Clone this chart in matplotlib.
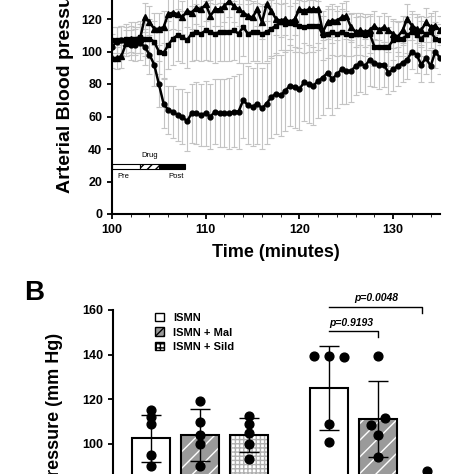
import matplotlib
matplotlib.use("Agg")
import matplotlib.pyplot as plt
from matplotlib.patches import Rectangle, Patch
import numpy as np

plt.rcParams['font.family'] = 'Liberation Sans'
plt.rcParams['font.weight'] = 'bold'

# ---- panel A data (time course, 0.5 min steps from 100 to 135) ----
tiempo = np.arange(100, 135.01, 0.5)
circ = [103, 106, 107, 106, 104, 104, 105, 103, 98, 92, 80, 68, 64, 63, 61, 60, 57, 62, 62, 61,
        62, 60, 63, 62, 62, 62, 63, 63, 70, 67, 66, 68, 65, 68, 72, 74, 73, 76, 79, 78,
        77, 81, 80, 79, 82, 84, 87, 83, 86, 89, 88, 88, 91, 93, 91, 95, 93, 92, 92, 87,
        89, 91, 93, 95, 100, 98, 92, 96, 91, 100, 96]
circ_err = [8, 9, 9, 9, 9, 10, 10, 11, 12, 13, 14, 15, 15, 16, 16, 17, 18, 18, 19, 19,
            20, 20, 20, 21, 21, 22, 22, 23, 23, 24, 24, 25, 25, 25, 25, 25, 25, 25, 25, 25,
            25, 24, 24, 24, 23, 23, 22, 22, 21, 21, 20, 19, 18, 18, 17, 16, 15, 15, 14, 13,
            13, 12, 12, 12, 11, 11, 11, 10, 10, 10, 10]
cuad = [107, 107, 107, 108, 108, 108, 109, 108, 108, 106, 100, 99, 104, 108, 110, 109, 107, 111, 112, 111,
        113, 112, 111, 112, 112, 112, 113, 111, 115, 111, 112, 112, 111, 112, 114, 116, 118, 117, 118, 117,
        116, 115, 116, 116, 116, 110, 111, 112, 111, 112, 111, 110, 111, 111, 110, 111, 103, 103, 103, 103,
        107, 108, 108, 110, 112, 110, 108, 111, 112, 108, 107]
cuad_err = [8, 8, 9, 9, 10, 10, 10, 11, 12, 13, 14, 15, 15, 16, 16, 16, 17, 17, 17, 17,
            18, 18, 18, 18, 18, 18, 18, 18, 18, 18, 18, 18, 18, 18, 18, 18, 17, 17, 17, 17,
            16, 16, 16, 16, 15, 15, 15, 14, 14, 14, 14, 13, 13, 13, 13, 12, 12, 12, 12, 12,
            12, 11, 11, 11, 11, 11, 11, 10, 10, 10, 10]
tri = [96, 96, 97, 105, 108, 107, 108, 121, 118, 114, 114, 115, 123, 124, 123, 121, 125, 124, 127, 126,
       129, 122, 126, 126, 128, 131, 128, 126, 124, 122, 121, 126, 118, 129, 125, 120, 119, 120, 118, 120,
       126, 125, 126, 126, 126, 112, 118, 119, 119, 121, 122, 115, 112, 113, 112, 113, 116, 113, 115, 113,
       111, 109, 113, 120, 116, 114, 113, 118, 115, 116, 113]
tri_err = [6, 7, 7, 8, 8, 8, 9, 9, 10, 10, 10, 10, 10, 10, 10, 10, 10, 10, 10, 10,
           10, 10, 10, 10, 10, 10, 10, 10, 10, 10, 10, 10, 10, 10, 10, 10, 10, 10, 10, 10,
           10, 10, 10, 10, 10, 10, 10, 10, 9, 9, 9, 9, 9, 9, 9, 9, 9, 9, 9, 9,
           9, 9, 9, 9, 9, 9, 9, 9, 9, 9, 9]

# ---- panel B data ----
grupos = ['ISMN', 'ISMN + Mal', 'ISMN + Sild']
pos_b = [1, 2, 3, 4.63, 5.63, 6.63]
medias = [102.5, 104, 104, 125, 111, 0]
sd = [10.5, 11.5, 7.5, 19, 17, 0]
puntos = [[115, 112, 109, 95, 90], [119, 110, 104, 100, 90], [112.5, 109, 105, 100, 93],
          [139.5, 139.5, 139, 109, 101], [139.5, 108.5, 111.5, 104, 94], [88]]
jitter = [[0, 0, 0, 0, 0], [0, 0, 0, 0, 0], [0, 0, 0, 0, 0],
          [-0.3, 0, 0.3, 0, 0], [0, -0.15, 0.15, 0, 0], [0]]

fig = plt.figure(figsize=(4.74, 4.74), dpi=100)
W = H = 474.0

# ---------- panel A ----------
ax1 = fig.add_axes([112 / W, (H - 214) / H, (440 - 112) / W, 227.5 / H])
gris = '#c4c4c4'
for y, e in [(circ, circ_err), (cuad, cuad_err), (tri, tri_err)]:
    ax1.errorbar(tiempo, y, yerr=e, fmt='none', ecolor=gris, elinewidth=0.8, capsize=2, capthick=0.8, zorder=1)
ax1.plot(tiempo, circ, 'k-o', ms=3.5, lw=1.8, zorder=3)
ax1.plot(tiempo, cuad, 'k-s', ms=3.5, lw=1.8, zorder=3)
ax1.plot(tiempo, tri, 'k-^', ms=4, lw=1.8, zorder=3)
ax1.set_xlim(100, 135)
ax1.set_ylim(0, 140)
ax1.set_yticks(range(0, 141, 20))
ax1.set_xticks([100, 110, 120, 130])
ax1.set_xticks(np.arange(100, 136, 2), minor=True)
ax1.spines['top'].set_visible(False)
ax1.spines['right'].set_visible(False)
for s in ['left', 'bottom']:
    ax1.spines[s].set_linewidth(1.5)
ax1.tick_params(labelsize=9, width=1.3)
ax1.set_xlabel('Time (minutes)', fontsize=13, fontweight='bold', labelpad=6)
# drug timeline inset
ax1.add_patch(Rectangle((100, 27.5), 3, 3.5, facecolor='white', edgecolor='black', lw=0.8))
ax1.add_patch(Rectangle((103, 27.5), 2, 3.5, facecolor='white', edgecolor='black', hatch='////', lw=0.8))
ax1.add_patch(Rectangle((105, 27.5), 2.8, 3.5, facecolor='black', edgecolor='black', lw=0.8))
ax1.text(104, 34, 'Drug', fontsize=5.5, ha='center', va='bottom', fontweight='normal')
ax1.text(100.6, 25, 'Pre', fontsize=5.5, ha='left', va='top', fontweight='normal')
ax1.text(106.8, 25, 'Post', fontsize=5.5, ha='center', va='top', fontweight='normal')
fig.text(66 / W, (H - 193) / H, 'Arterial Blood pressure (mm Hg)', rotation=90,
         ha='center', va='bottom', fontsize=14, fontweight='bold')

# ---------- panel B ----------
ax2 = fig.add_axes([113 / W, (H - 667) / H, (474 - 113) / W, (667 - 310) / H])
estilos = [dict(facecolor='white', hatch=None, hc='black'),
           dict(facecolor='#9a9a9a', hatch='//', hc='white'),
           dict(facecolor='white', hatch='++++', hc='#b0b0b0')]
for i, (x, m, e) in enumerate(zip(pos_b, medias, sd)):
    if m == 0:
        continue
    st = estilos[i % 3]
    ax2.bar(x, m, width=0.78, color=st['facecolor'], hatch=st['hatch'], edgecolor=st['hc'], lw=0, zorder=1)
    ax2.bar(x, m, width=0.78, fill=False, edgecolor='black', lw=1.5, zorder=2)
    ax2.errorbar(x, m, yerr=e, fmt='none', ecolor='black', elinewidth=1, capsize=7, capthick=1, zorder=3)
for x, pts, jt in zip(pos_b, puntos, jitter):
    ax2.scatter(np.array(jt) + x, pts, s=40, color='black', zorder=4)
ax2.set_xlim(0.22, 7.59)
ax2.set_ylim(0, 160)
ax2.set_yticks(range(0, 161, 20))
ax2.set_xticks([])
ax2.spines['top'].set_visible(False)
ax2.spines['right'].set_visible(False)
ax2.spines['left'].set_linewidth(1.5)
ax2.tick_params(labelsize=9, width=1.3)
# significance brackets
ax2.plot([4.63, 4.63, 6.52, 6.52], [161.5, 161.5, 161.5, 158.8], 'k-', lw=1, clip_on=False)
ax2.text(5.6, 163, 'p=0.0048', style='italic', fontsize=7.5, ha='center', va='bottom')
ax2.plot([4.63, 5.63, 5.63], [150.6, 150.6, 148], 'k-', lw=1)
ax2.text(4.63, 152, 'p=0.9193', style='italic', fontsize=7.5, ha='left', va='bottom')
handles = [Patch(facecolor=s['facecolor'], hatch=s['hatch'], edgecolor='black') for s in estilos]
handles[1] = Patch(facecolor='#9a9a9a', hatch='////', edgecolor='black')
ax2.legend(handles, grupos, loc='upper left', bbox_to_anchor=(0.09, 1.02), frameon=False,
           fontsize=8, handlelength=0.8, handleheight=0.8, labelspacing=0.4, handletextpad=0.8,
           prop={'weight': 'bold', 'size': 8})
fig.text(55 / W, (H - 333) / H, 'Arterial Blood Pressure (mm Hg)', rotation=90,
         ha='center', va='top', fontsize=13, fontweight='bold')
fig.text(24 / W, (H - 300) / H, 'B', fontsize=20, fontweight='bold')

fig.savefig('out.png', dpi=100)
